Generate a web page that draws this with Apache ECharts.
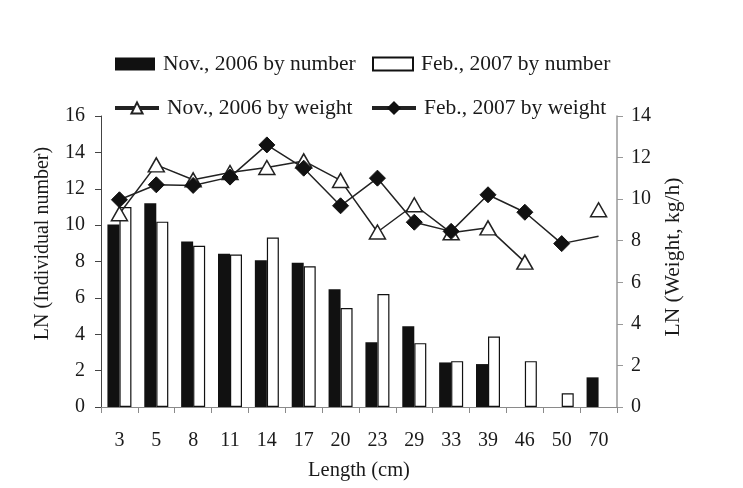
<!DOCTYPE html>
<html>
<head>
<meta charset="utf-8">
<script src="https://cdn.jsdelivr.net/npm/echarts@6/dist/echarts.min.js"></script>
<style>html,body{margin:0;padding:0;background:#fff;}#c{width:743px;height:488px;}</style>
</head>
<body>
<div id="c"></div>
<script>
const categories = ['3','5','8','11','14','17','20','23','29','33','39','46','50','70'];
const novNumber = [10.03, 11.2, 9.1, 8.42, 8.07, 7.93, 6.48, 3.56, 4.44, 2.45, 2.36, null, null, 1.63];
const febNumber = [11.0, 10.19, 8.86, 8.38, 9.32, 7.74, 5.44, 6.21, 3.51, 2.52, 3.87, 2.52, 0.75, null];
const novWeight = [9.3, 11.65, 10.93, 11.28, 11.52, 11.84, 10.9, 8.42, 9.73, 8.38, 8.62, 6.97, null, 9.49];
const febWeight = [9.97, 10.69, 10.66, 11.06, 12.61, 11.49, 9.68, 11.01, 8.89, 8.45, 10.21, 9.37, 7.86, 8.21];
const leftTicks = [0, 16, 2];
const rightTicks = [0, 14, 2];

const FONT = '"Liberation Serif", "Times New Roman", serif';
const TXT = '#1a1a1a';
const chart = echarts.init(document.getElementById('c'));

const legendBase = {
  orient: 'horizontal', padding: 0, itemWidth: 40, itemHeight: 13,
  textStyle: { fontFamily: FONT, fontSize: 21.5, color: TXT, padding: [0, 0, 0, 3] },
  itemGap: 10, selectedMode: false
};
const lineLegend = { itemWidth: 44, itemHeight: 14, lineStyle: { width: 4 } };

chart.setOption({
  animation: false,
  backgroundColor: '#fff',
  legend: [
    Object.assign({}, legendBase, { left: 115, top: 53, icon: 'rect', data: ['Nov., 2006 by number'] }),
    Object.assign({}, legendBase, { left: 372, top: 53, icon: 'rect', data: ['Feb., 2007 by number'] }),
    Object.assign({}, legendBase, lineLegend, { left: 113, top: 97, data: ['Nov., 2006 by weight'] }),
    Object.assign({}, legendBase, lineLegend, { left: 370, top: 97, data: ['Feb., 2007 by weight'] })
  ],
  grid: { left: 101, right: 126, top: 116, bottom: 81, containLabel: false },
  xAxis: {
    type: 'category', data: categories, boundaryGap: true,
    name: 'Length (cm)', nameLocation: 'middle', nameGap: 53,
    nameTextStyle: { fontFamily: FONT, fontSize: 20.5, color: TXT },
    axisLine: { lineStyle: { color: '#8a8a8a', width: 1 } },
    axisTick: { show: true, length: 6, lineStyle: { color: '#8a8a8a' } },
    axisLabel: { fontFamily: FONT, fontSize: 20, color: TXT, margin: 24 }
  },
  yAxis: [
    {
      type: 'value', min: leftTicks[0], max: leftTicks[1], interval: leftTicks[2],
      name: 'LN (Individual number)', nameLocation: 'middle', nameGap: 48,
      nameTextStyle: { fontFamily: FONT, fontSize: 20, color: TXT, padding: [0, 0, 0, 36] },
      axisLine: { show: true, lineStyle: { color: '#444', width: 1 } },
      axisTick: { show: true, length: 6, lineStyle: { color: '#444' } },
      axisLabel: { fontFamily: FONT, fontSize: 20, color: TXT, margin: 16 },
      splitLine: { show: false }
    },
    {
      type: 'value', min: rightTicks[0], max: rightTicks[1], interval: rightTicks[2], position: 'right',
      name: 'LN (Weight, kg/h)', nameLocation: 'middle', nameGap: 45,
      nameTextStyle: { fontFamily: FONT, fontSize: 21.5, color: TXT, padding: [0, 0, 0, 9] },
      axisLine: { show: true, lineStyle: { color: '#999', width: 1.5 } },
      axisTick: { show: true, length: 6, lineStyle: { color: '#999' } },
      axisLabel: { fontFamily: FONT, fontSize: 20, color: TXT, margin: 14 },
      splitLine: { show: false }
    }
  ],
  series: [
    {
      name: 'Nov., 2006 by number', type: 'bar', yAxisIndex: 0, data: novNumber,
      barWidth: 12, barGap: '0%',
      itemStyle: { color: '#111', borderColor: '#111', borderWidth: 0 }
    },
    {
      name: 'Feb., 2007 by number', type: 'bar', yAxisIndex: 0, data: febNumber,
      barWidth: 12, barGap: '0%',
      itemStyle: { color: '#fff', borderColor: '#111', borderWidth: 1.2 }
    },
    {
      name: 'Nov., 2006 by weight', type: 'line', yAxisIndex: 1, data: novWeight,
      connectNulls: false, symbol: 'triangle', symbolSize: [16, 14],
      lineStyle: { color: '#222', width: 1.5 },
      itemStyle: { color: '#fff', borderColor: '#222', borderWidth: 1.5 },
      z: 3
    },
    {
      name: 'Feb., 2007 by weight', type: 'line', yAxisIndex: 1,
      data: febWeight.map((v, i) => i === febWeight.length - 1 ? { value: v, symbol: 'none' } : v),
      symbol: 'diamond', symbolSize: [16, 16],
      lineStyle: { color: '#222', width: 1.5 },
      itemStyle: { color: '#111', borderColor: '#111', borderWidth: 1 },
      z: 4
    }
  ]
});
</script>
</body>
</html>
